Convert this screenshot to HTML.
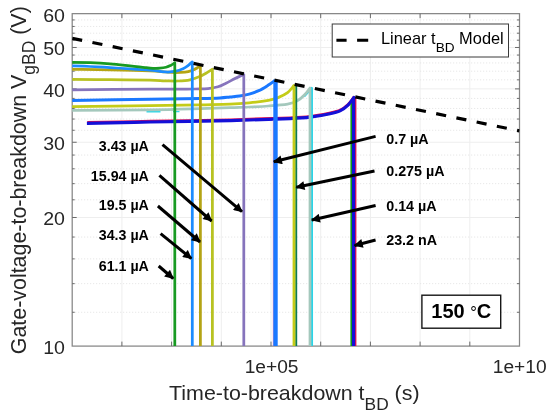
<!DOCTYPE html>
<html><head><meta charset="utf-8"><title>Time-to-breakdown plot</title>
<style>html,body{margin:0;padding:0;background:#fff;}svg{display:block;}text{font-family:"Liberation Sans",Arial,Helvetica,sans-serif;fill:#262626;}.b{font-weight:bold;fill:#000;}</style>
</head><body>
<svg width="550" height="417" viewBox="0 0 550 417">
<rect width="550" height="417" fill="#fff"/>
<g stroke="#eeeeee" stroke-width="1" fill="none">
<line x1="121.90" y1="13.65" x2="121.90" y2="346.1"/>
<line x1="171.60" y1="13.65" x2="171.60" y2="346.1"/>
<line x1="221.30" y1="13.65" x2="221.30" y2="346.1"/>
<line x1="271.00" y1="13.65" x2="271.00" y2="346.1"/>
<line x1="320.70" y1="13.65" x2="320.70" y2="346.1"/>
<line x1="370.40" y1="13.65" x2="370.40" y2="346.1"/>
<line x1="420.10" y1="13.65" x2="420.10" y2="346.1"/>
<line x1="469.80" y1="13.65" x2="469.80" y2="346.1"/>
<line x1="72.2" y1="217.49" x2="519.5" y2="217.49"/>
<line x1="72.2" y1="142.26" x2="519.5" y2="142.26"/>
<line x1="72.2" y1="88.88" x2="519.5" y2="88.88"/>
<line x1="72.2" y1="47.48" x2="519.5" y2="47.48"/>
</g>
<g stroke="#e2e2e2" stroke-width="1" stroke-dasharray="1 2" fill="none">
<line x1="72.2" y1="312.27" x2="519.5" y2="312.27"/>
<line x1="72.2" y1="283.67" x2="519.5" y2="283.67"/>
<line x1="72.2" y1="258.89" x2="519.5" y2="258.89"/>
<line x1="72.2" y1="237.04" x2="519.5" y2="237.04"/>
<line x1="72.2" y1="199.81" x2="519.5" y2="199.81"/>
<line x1="72.2" y1="183.66" x2="519.5" y2="183.66"/>
<line x1="72.2" y1="168.81" x2="519.5" y2="168.81"/>
<line x1="72.2" y1="155.06" x2="519.5" y2="155.06"/>
<line x1="72.2" y1="130.28" x2="519.5" y2="130.28"/>
<line x1="72.2" y1="119.04" x2="519.5" y2="119.04"/>
<line x1="72.2" y1="108.43" x2="519.5" y2="108.43"/>
<line x1="72.2" y1="98.40" x2="519.5" y2="98.40"/>
<line x1="72.2" y1="79.83" x2="519.5" y2="79.83"/>
<line x1="72.2" y1="71.20" x2="519.5" y2="71.20"/>
<line x1="72.2" y1="62.95" x2="519.5" y2="62.95"/>
<line x1="72.2" y1="55.05" x2="519.5" y2="55.05"/>
<line x1="72.2" y1="40.20" x2="519.5" y2="40.20"/>
<line x1="72.2" y1="33.20" x2="519.5" y2="33.20"/>
<line x1="72.2" y1="26.45" x2="519.5" y2="26.45"/>
<line x1="72.2" y1="19.94" x2="519.5" y2="19.94"/>
</g>
<defs><clipPath id="c"><rect x="72.20" y="13.65" width="447.30" height="332.45"/></clipPath>
<marker id="ah" viewBox="0 0 10 10" refX="9" refY="5" markerWidth="11" markerHeight="9" markerUnits="userSpaceOnUse" orient="auto"><path d="M0,0 L10,5 L0,10 Z" fill="#000"/></marker>
</defs>
<rect x="72.2" y="13.65" width="447.30" height="332.45" fill="none" stroke="#868686" stroke-width="1.25"/>
<g stroke="#6a6a6a" stroke-width="1" fill="none">
<line x1="72.2" y1="312.27" x2="74.7" y2="312.27"/><line x1="519.5" y1="312.27" x2="517.0" y2="312.27"/>
<line x1="72.2" y1="283.67" x2="74.7" y2="283.67"/><line x1="519.5" y1="283.67" x2="517.0" y2="283.67"/>
<line x1="72.2" y1="258.89" x2="74.7" y2="258.89"/><line x1="519.5" y1="258.89" x2="517.0" y2="258.89"/>
<line x1="72.2" y1="237.04" x2="74.7" y2="237.04"/><line x1="519.5" y1="237.04" x2="517.0" y2="237.04"/>
<line x1="72.2" y1="217.49" x2="76.7" y2="217.49"/><line x1="519.5" y1="217.49" x2="515.0" y2="217.49"/>
<line x1="72.2" y1="199.81" x2="74.7" y2="199.81"/><line x1="519.5" y1="199.81" x2="517.0" y2="199.81"/>
<line x1="72.2" y1="183.66" x2="74.7" y2="183.66"/><line x1="519.5" y1="183.66" x2="517.0" y2="183.66"/>
<line x1="72.2" y1="168.81" x2="74.7" y2="168.81"/><line x1="519.5" y1="168.81" x2="517.0" y2="168.81"/>
<line x1="72.2" y1="155.06" x2="74.7" y2="155.06"/><line x1="519.5" y1="155.06" x2="517.0" y2="155.06"/>
<line x1="72.2" y1="142.26" x2="76.7" y2="142.26"/><line x1="519.5" y1="142.26" x2="515.0" y2="142.26"/>
<line x1="72.2" y1="130.28" x2="74.7" y2="130.28"/><line x1="519.5" y1="130.28" x2="517.0" y2="130.28"/>
<line x1="72.2" y1="119.04" x2="74.7" y2="119.04"/><line x1="519.5" y1="119.04" x2="517.0" y2="119.04"/>
<line x1="72.2" y1="108.43" x2="74.7" y2="108.43"/><line x1="519.5" y1="108.43" x2="517.0" y2="108.43"/>
<line x1="72.2" y1="98.40" x2="74.7" y2="98.40"/><line x1="519.5" y1="98.40" x2="517.0" y2="98.40"/>
<line x1="72.2" y1="88.88" x2="76.7" y2="88.88"/><line x1="519.5" y1="88.88" x2="515.0" y2="88.88"/>
<line x1="72.2" y1="79.83" x2="74.7" y2="79.83"/><line x1="519.5" y1="79.83" x2="517.0" y2="79.83"/>
<line x1="72.2" y1="71.20" x2="74.7" y2="71.20"/><line x1="519.5" y1="71.20" x2="517.0" y2="71.20"/>
<line x1="72.2" y1="62.95" x2="74.7" y2="62.95"/><line x1="519.5" y1="62.95" x2="517.0" y2="62.95"/>
<line x1="72.2" y1="55.05" x2="74.7" y2="55.05"/><line x1="519.5" y1="55.05" x2="517.0" y2="55.05"/>
<line x1="72.2" y1="47.48" x2="76.7" y2="47.48"/><line x1="519.5" y1="47.48" x2="515.0" y2="47.48"/>
<line x1="72.2" y1="40.20" x2="74.7" y2="40.20"/><line x1="519.5" y1="40.20" x2="517.0" y2="40.20"/>
<line x1="72.2" y1="33.20" x2="74.7" y2="33.20"/><line x1="519.5" y1="33.20" x2="517.0" y2="33.20"/>
<line x1="72.2" y1="26.45" x2="74.7" y2="26.45"/><line x1="519.5" y1="26.45" x2="517.0" y2="26.45"/>
<line x1="72.2" y1="19.94" x2="74.7" y2="19.94"/><line x1="519.5" y1="19.94" x2="517.0" y2="19.94"/>
<line x1="121.90" y1="346.1" x2="121.90" y2="341.6"/><line x1="121.90" y1="13.65" x2="121.90" y2="18.15"/>
<line x1="171.60" y1="346.1" x2="171.60" y2="341.6"/><line x1="171.60" y1="13.65" x2="171.60" y2="18.15"/>
<line x1="221.30" y1="346.1" x2="221.30" y2="341.6"/><line x1="221.30" y1="13.65" x2="221.30" y2="18.15"/>
<line x1="271.00" y1="346.1" x2="271.00" y2="341.6"/><line x1="271.00" y1="13.65" x2="271.00" y2="18.15"/>
<line x1="320.70" y1="346.1" x2="320.70" y2="341.6"/><line x1="320.70" y1="13.65" x2="320.70" y2="18.15"/>
<line x1="370.40" y1="346.1" x2="370.40" y2="341.6"/><line x1="370.40" y1="13.65" x2="370.40" y2="18.15"/>
<line x1="420.10" y1="346.1" x2="420.10" y2="341.6"/><line x1="420.10" y1="13.65" x2="420.10" y2="18.15"/>
<line x1="469.80" y1="346.1" x2="469.80" y2="341.6"/><line x1="469.80" y1="13.65" x2="469.80" y2="18.15"/>
</g>
<g clip-path="url(#c)" fill="none" stroke-linejoin="round" stroke-linecap="butt">
<path d="M87.3,122.6 C97.8,122.4 126.6,121.8 150.4,121.3 C174.2,120.8 207.1,120.5 230.4,119.9 C253.7,119.3 277.1,118.5 290.4,117.9 C303.7,117.3 303.7,117.3 310.4,116.5 C317.1,115.7 325.4,114.0 330.4,113.0 C335.4,112.0 337.4,111.6 340.4,110.2 C343.4,108.8 346.1,106.6 348.4,104.4 C350.7,102.1 353.4,98.0 354.4,96.7" stroke="#e8104a" stroke-width="3"/>
<path d="M351.4,101 L351.4,346.1" stroke="#12961c" stroke-width="2"/>
<path d="M355.5,97.5 L355.5,346.1" stroke="#e8104a" stroke-width="1.8"/>
<path d="M86.9,123.3 C97.4,123.1 126.2,122.5 150.0,122.0 C173.8,121.5 206.7,121.2 230.0,120.6 C253.3,120.0 276.7,119.2 290.0,118.6 C303.3,118.0 303.3,118.0 310.0,117.2 C316.7,116.4 325.0,114.8 330.0,113.7 C335.0,112.7 337.0,112.3 340.0,110.9 C343.0,109.5 345.7,107.3 348.0,105.1 C350.3,102.8 353.0,98.7 354.0,97.4 L353.6,98.5 L353.6,346.1" stroke="#1410d8" stroke-width="3.2"/>
<path d="M146.5,111.8 L160.5,111.8 M173,111.6 L179.5,111.6" stroke="#30d8e8" stroke-width="1.4"/>
<path d="M304,96.5 C307,93 309.5,90.5 311.8,88 L311.9,346.1" stroke="#28d4e8" stroke-width="2.3"/>
<path d="M72.0,110.5 C85.0,110.4 128.7,110.2 150.0,109.9 C171.3,109.6 186.7,109.0 200.0,108.6 C213.3,108.2 221.8,107.9 230.0,107.6 C238.2,107.3 242.8,107.3 249.2,107.0 C255.6,106.7 262.0,106.5 268.4,106.0 C274.8,105.5 282.8,104.9 287.6,104.1 C292.4,103.2 294.3,102.5 297.2,100.9 C300.1,99.3 302.8,96.7 304.9,94.5 C307.0,92.3 309.1,89.1 310.0,88.0 L310,346.1" stroke="#a4c8bc" stroke-width="2.75"/>
<path d="M296.2,84.5 L296.2,346.1" stroke="#0d7a55" stroke-width="2"/>
<path d="M72.0,106.6 C85.0,106.4 128.7,106.0 150.0,105.7 C171.3,105.4 186.7,105.1 200.0,104.8 C213.3,104.5 221.8,104.4 230.0,104.1 C238.2,103.8 242.8,103.4 249.2,102.8 C255.6,102.2 263.6,101.2 268.4,100.3 C273.2,99.4 274.8,98.9 278.0,97.6 C281.2,96.3 284.9,94.6 287.6,92.6 C290.3,90.6 292.9,86.7 294.0,85.5 L294,346.1" stroke="#c4cc18" stroke-width="2.8"/>
<path d="M273.3,120 L273.3,346.1" stroke="#f07ab0" stroke-width="0.9"/>
<path d="M72.0,100.4 C85.0,100.2 128.7,99.6 150.0,99.3 C171.3,99.0 188.3,98.7 200.0,98.5 C211.7,98.3 215.0,98.2 220.0,97.9 C225.0,97.7 226.7,97.3 230.0,97.0 C233.3,96.7 236.4,96.6 239.6,96.1 C242.8,95.6 246.0,95.0 249.2,94.1 C252.4,93.2 255.6,92.2 258.8,90.7 C262.0,89.2 265.7,86.8 268.4,85.1 C271.1,83.4 274.0,81.1 275.1,80.3" stroke="#1a78ff" stroke-width="3"/>
<path d="M275.5,80.3 L275.5,346.1" stroke="#1a78ff" stroke-width="4.4"/>
<path d="M72.0,89.9 C85.0,89.8 129.5,89.2 150.0,89.1 C170.5,88.9 185.3,89.1 195.0,89.0 C204.7,88.9 204.2,89.0 208.0,88.6 C211.8,88.2 215.0,87.7 218.0,86.8 C221.0,85.9 223.3,84.5 226.0,83.2 C228.7,81.9 231.7,80.2 234.0,79.0 C236.3,77.8 238.4,76.9 240.0,76.2 C241.6,75.5 243.2,74.9 243.8,74.6 L243.8,346.1" stroke="#8674bc" stroke-width="2.75"/>
<path d="M72.0,79.4 C78.3,79.5 97.0,79.6 110.0,79.7 C123.0,79.8 140.8,80.0 150.0,80.2 C159.2,80.4 160.3,80.7 165.0,80.8 C169.7,80.9 173.8,81.2 178.0,81.0 C182.2,80.8 186.5,80.5 190.0,79.8 C193.5,79.1 196.3,77.9 199.0,76.8 C201.7,75.7 203.8,74.5 206.0,73.2 C208.2,71.9 211.3,69.9 212.4,69.2 L212.4,346.1" stroke="#b8c222" stroke-width="2.75"/>
<path d="M72.0,69.3 C78.3,69.4 97.0,69.5 110.0,69.8 C123.0,70.0 140.8,70.4 150.0,70.8 C159.2,71.2 160.8,71.7 165.0,72.0 C169.2,72.3 171.7,72.6 175.0,72.6 C178.3,72.6 182.2,72.5 185.0,72.2 C187.8,71.9 190.0,71.2 192.0,70.5 C194.0,69.8 195.6,68.9 197.0,68.0 C198.4,67.1 199.8,65.8 200.4,65.3 L200.4,346.1" stroke="#b4a414" stroke-width="2.75"/>
<path d="M72.0,65.8 C75.0,65.9 83.7,66.2 90.0,66.5 C96.3,66.8 103.3,67.2 110.0,67.6 C116.7,68.0 123.3,68.5 130.0,68.9 C136.7,69.3 145.0,69.8 150.0,70.2 C155.0,70.6 157.0,71.1 160.0,71.4 C163.0,71.7 165.3,72.0 168.0,72.0 C170.7,72.0 173.5,71.7 176.0,71.2 C178.5,70.7 181.0,69.7 183.0,68.8 C185.0,67.9 186.4,66.8 188.0,65.6 C189.6,64.4 191.6,62.5 192.3,61.9 L192.3,346.1" stroke="#1c8cff" stroke-width="2.75"/>
<path d="M72.0,62.3 C75.0,62.3 83.7,62.4 90.0,62.6 C96.3,62.9 103.3,63.3 110.0,63.8 C116.7,64.3 124.2,65.2 130.0,65.8 C135.8,66.4 141.2,67.2 145.0,67.6 C148.8,68.0 150.5,68.2 153.0,68.3 C155.5,68.4 157.8,68.4 160.0,68.2 C162.2,68.0 164.2,67.7 166.0,67.2 C167.8,66.7 169.5,66.0 171.0,65.3 C172.5,64.5 174.2,63.1 174.8,62.7 L174.8,346.1" stroke="#189a22" stroke-width="2.75"/>
<path d="M72.2,38.3 L519.5,130.9" stroke="#000" stroke-width="3.2" stroke-dasharray="10.15 10.5" stroke-dashoffset="0"/>
</g>
<text transform="translate(65.00,21.55) scale(1.02,1)" font-size="19.2" text-anchor="end">60</text>
<text transform="translate(65.00,55.38) scale(1.02,1)" font-size="19.2" text-anchor="end">50</text>
<text transform="translate(65.00,96.78) scale(1.02,1)" font-size="19.2" text-anchor="end">40</text>
<text transform="translate(65.00,150.16) scale(1.02,1)" font-size="19.2" text-anchor="end">30</text>
<text transform="translate(65.00,225.39) scale(1.02,1)" font-size="19.2" text-anchor="end">20</text>
<text transform="translate(65.00,354.00) scale(1.02,1)" font-size="19.2" text-anchor="end">10</text>
<text transform="translate(271.60,372.60) scale(1.02,1)" font-size="18.8" text-anchor="middle">1e+05</text>
<text transform="translate(519.70,372.60) scale(1.02,1)" font-size="18.8" text-anchor="middle">1e+10</text>
<text transform="translate(294.30,400.40) scale(1.02,1)" font-size="21" text-anchor="middle">Time-to-breakdown t<tspan font-size="17" dy="10">BD</tspan><tspan dy="-10"> (s)</tspan></text>
<text transform="translate(25.6,180.2) rotate(-90) scale(1,1.03)" font-size="21.4" text-anchor="middle">Gate-voltage-to-breakdown V<tspan font-size="17.5" dy="9.3">gBD</tspan><tspan dy="-9.3"> (V)</tspan></text>
<rect x="332.2" y="24.0" width="176.3" height="33" fill="#fff" stroke="#3a3a3a" stroke-width="1"/>
<path d="M336.4,40.2 H346.6 M357.1,40.2 H368.2" stroke="#000" stroke-width="3" fill="none"/>
<text transform="translate(381.00,43.80) scale(1.0,1)" font-size="16.4" text-anchor="start" style="fill:#000">Linear t<tspan font-size="13.6" dy="8">BD</tspan><tspan dy="-8"> Model</tspan></text>
<text transform="translate(148.90,150.60) scale(0.95,1)" font-size="15" text-anchor="end" class="b">3.43 µA</text>
<text transform="translate(148.90,180.50) scale(0.95,1)" font-size="15" text-anchor="end" class="b">15.94 µA</text>
<text transform="translate(148.90,210.00) scale(0.95,1)" font-size="15" text-anchor="end" class="b">19.5 µA</text>
<text transform="translate(148.90,240.00) scale(0.95,1)" font-size="15" text-anchor="end" class="b">34.3 µA</text>
<text transform="translate(148.90,270.60) scale(0.95,1)" font-size="15" text-anchor="end" class="b">61.1 µA</text>
<text transform="translate(386.20,143.50) scale(0.955,1)" font-size="15" text-anchor="start" class="b">0.7 µA</text>
<text transform="translate(386.20,175.50) scale(0.955,1)" font-size="15" text-anchor="start" class="b">0.275 µA</text>
<text transform="translate(386.20,211.20) scale(0.955,1)" font-size="15" text-anchor="start" class="b">0.14 µA</text>
<text transform="translate(386.20,244.60) scale(0.955,1)" font-size="15" text-anchor="start" class="b">23.2 nA</text>
<g stroke="#000" stroke-width="3" fill="none" marker-end="url(#ah)">
<line x1="162.5" y1="144.6" x2="242" y2="211.7"/>
<line x1="159.4" y1="175.3" x2="211.6" y2="221"/>
<line x1="157.9" y1="206" x2="200" y2="242"/>
<line x1="160.6" y1="233.6" x2="191.3" y2="258.5"/>
<line x1="158.7" y1="266" x2="173.2" y2="278.5"/>
<line x1="375.6" y1="136.4" x2="273.8" y2="161.8"/>
<line x1="374.5" y1="171" x2="296.4" y2="187.3"/>
<line x1="375.6" y1="205.5" x2="311.8" y2="220"/>
<line x1="375.6" y1="240" x2="354.6" y2="245.5"/>
</g>
<rect x="421.9" y="295.2" width="78.8" height="33" fill="#fff" stroke="#161616" stroke-width="1.4"/>
<text transform="translate(461.30,317.90) scale(1.0,1)" font-size="20" text-anchor="middle" class="b">150 <tspan font-weight="normal" font-size="16.5">°</tspan>C</text>
</svg></body></html>
